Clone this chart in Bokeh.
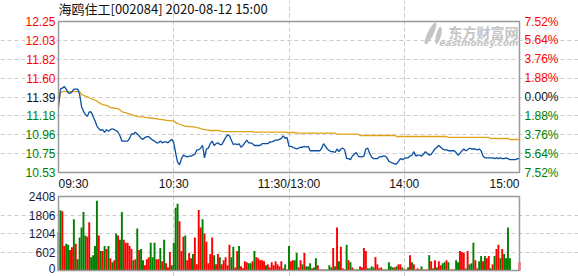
from bokeh.plotting import figure
from bokeh.models import Range1d, Grid, FixedTicker, Label
from bokeh.core.properties import value
from bokeh.embed import file_html
from bokeh.resources import INLINE

title_text = "海鸥住工[002084] 2020-08-12 15:00"
prev_close = 11.39
price_labels = ["12.25", "12.03", "11.82", "11.60", "11.39", "11.18", "10.96", "10.75", "10.53"]
pct_levels = [7.52, 5.64, 3.76, 1.88, 0.0, -1.88, -3.76, -5.64, -7.52]
pct_labels = ["7.52%", "5.64%", "3.76%", "1.88%", "0.00%", "1.88%", "3.76%", "5.64%", "7.52%"]
time_ticks = [0, 60, 120, 180, 240]
time_labels = ["09:30", "10:30", "11:30/13:00", "14:00", "15:00"]
vol_ticks = [0, 602, 1204, 1806, 2408]
vol_labels = ["0", "602", "1204", "1806", "2408"]

price = [
    11.28, 11.48, 11.49, 11.51, 11.48, 11.44, 11.43, 11.45, 11.48, 11.48,
    11.48, 11.42, 11.28, 11.23, 11.19, 11.17, 11.22, 11.22, 11.17, 11.12,
    11.06, 11.03, 11.01, 11.02, 10.99, 11.02, 11.00, 11.02, 11.03, 11.02,
    11.01, 10.99, 10.95, 10.89, 10.89, 10.89, 10.89, 10.92, 10.97, 10.97,
    10.99, 10.97, 10.95, 10.92, 10.91, 10.93, 10.94, 10.94, 10.92, 10.90,
    10.89, 10.87, 10.87, 10.89, 10.87, 10.88, 10.88, 10.87, 10.89, 10.91,
    10.87, 10.75, 10.65, 10.62, 10.69, 10.73, 10.72, 10.71, 10.72, 10.72,
    10.73, 10.74, 10.79, 10.79, 10.81, 10.84, 10.70, 10.80, 10.81, 10.86,
    10.89, 10.84, 10.86, 10.87, 10.85, 10.85, 10.89, 10.93, 10.96, 10.95,
    10.90, 10.85, 10.86, 10.85, 10.86, 10.82, 10.84, 10.87, 10.90, 10.87,
    10.87, 10.86, 10.84, 10.84, 10.84, 10.84, 10.86, 10.86, 10.86, 10.86,
    10.88, 10.88, 10.89, 10.90, 10.90, 10.91, 10.92, 10.95, 10.92, 10.93,
    10.83, 10.83, 10.82, 10.81, 10.80, 10.81, 10.82, 10.82, 10.83, 10.82,
    10.83, 10.78, 10.78, 10.78, 10.78, 10.78, 10.78, 10.81, 10.86, 10.83,
    10.80, 10.78, 10.77, 10.77, 10.76, 10.80, 10.77, 10.80, 10.81, 10.79,
    10.69, 10.69, 10.68, 10.72, 10.74, 10.76, 10.72, 10.71, 10.71, 10.72,
    10.80, 10.81, 10.75, 10.71, 10.69, 10.69, 10.69, 10.71, 10.71, 10.72,
    10.72, 10.70, 10.66, 10.65, 10.64, 10.63, 10.63, 10.66, 10.69, 10.68,
    10.69, 10.70, 10.70, 10.72, 10.73, 10.77, 10.72, 10.73, 10.73, 10.72,
    10.74, 10.77, 10.75, 10.73, 10.74, 10.77, 10.80, 10.82, 10.84, 10.82,
    10.80, 10.79, 10.79, 10.78, 10.78, 10.78, 10.78, 10.76, 10.73, 10.75,
    10.78, 10.80, 10.78, 10.79, 10.81, 10.80, 10.80, 10.80, 10.79, 10.80,
    10.78, 10.72, 10.70, 10.70, 10.70, 10.70, 10.70, 10.69, 10.70, 10.69,
    10.70, 10.69, 10.69, 10.70, 10.69, 10.68, 10.68, 10.68, 10.68, 10.69,
    10.69,
]

avg_price = [
    11.300, 11.440, 11.450, 11.450, 11.450, 11.450, 11.450, 11.450, 11.450, 11.450,
    11.450, 11.450, 11.420, 11.410, 11.400, 11.393, 11.382, 11.370, 11.363, 11.355,
    11.344, 11.325, 11.314, 11.303, 11.299, 11.295, 11.284, 11.273, 11.265, 11.265,
    11.261, 11.258, 11.243, 11.224, 11.216, 11.213, 11.205, 11.198, 11.190, 11.182,
    11.175, 11.171, 11.167, 11.164, 11.164, 11.160, 11.156, 11.152, 11.152, 11.149,
    11.145, 11.145, 11.137, 11.137, 11.134, 11.130, 11.126, 11.122, 11.122, 11.119,
    11.119, 11.100, 11.092, 11.081, 11.073, 11.066, 11.058, 11.058, 11.055, 11.055,
    11.051, 11.047, 11.043, 11.040, 11.032, 11.025, 11.021, 11.017, 11.013, 11.010,
    11.010, 11.010, 11.010, 11.010, 11.010, 10.998, 10.998, 10.998, 10.998, 10.998,
    10.998, 10.998, 10.998, 10.998, 10.998, 10.998, 10.998, 10.998, 10.998, 10.998,
    10.998, 10.998, 10.991, 10.991, 10.991, 10.991, 10.991, 10.991, 10.991, 10.991,
    10.991, 10.991, 10.991, 10.991, 10.991, 10.991, 10.991, 10.991, 10.991, 10.987,
    10.987, 10.987, 10.987, 10.987, 10.984, 10.980, 10.980, 10.980, 10.980, 10.980,
    10.980, 10.980, 10.980, 10.980, 10.980, 10.980, 10.980, 10.980, 10.980, 10.980,
    10.980, 10.980, 10.980, 10.980, 10.980, 10.968, 10.968, 10.968, 10.968, 10.968,
    10.968, 10.968, 10.968, 10.968, 10.968, 10.968, 10.968, 10.953, 10.953, 10.953,
    10.953, 10.953, 10.953, 10.953, 10.953, 10.953, 10.953, 10.953, 10.953, 10.953,
    10.953, 10.953, 10.953, 10.953, 10.953, 10.953, 10.942, 10.942, 10.942, 10.942,
    10.942, 10.942, 10.942, 10.942, 10.942, 10.942, 10.942, 10.942, 10.942, 10.942,
    10.942, 10.942, 10.942, 10.942, 10.942, 10.942, 10.942, 10.942, 10.942, 10.942,
    10.942, 10.942, 10.942, 10.931, 10.931, 10.931, 10.931, 10.931, 10.931, 10.931,
    10.931, 10.931, 10.931, 10.931, 10.931, 10.931, 10.931, 10.931, 10.931, 10.931,
    10.931, 10.931, 10.931, 10.931, 10.931, 10.919, 10.919, 10.919, 10.919, 10.919,
    10.919, 10.919, 10.919, 10.919, 10.919, 10.908, 10.908, 10.908, 10.908, 10.908,
    10.908,
]

volume = [
    1240, 1960, 1930, 800, 870, 840, 670, 760, 1670, 870,
    370, 1070, 1400, 1900, 1140, 1100, 1570, 435, 500, 800,
    2270, 1140, 635, 635, 800, 700, 800, 400, 270, 335,
    1200, 1140, 1000, 1900, 1000, 900, 900, 800, 700, 335,
    370, 1370, 670, 700, 335, 170, 370, 435, 900, 435,
    900, 370, 370, 735, 300, 1000, 235, 100, 600, 170,
    900, 2040, 2170, 1600, 635, 1100, 1140, 335, 570, 400,
    535, 1070, 200, 1970, 1400, 1670, 1200, 935, 235, 535,
    1070, 500, 200, 535, 435, 200, 335, 435, 170, 835,
    435, 770, 100, 635, 800, 135, 70, 300, 270, 235,
    235, 300, 635, 435, 400, 335, 335, 300, 170, 200,
    100, 270, 170, 300, 200, 135, 300, 70, 200, 35,
    800, 300, 335, 335, 570, 100, 335, 200, 570, 135,
    135, 235, 70, 100, 400, 170, 35, 35, 35, 35,
    35, 170, 100, 735, 135, 1400, 300, 770, 70, 35,
    835, 335, 270, 100, 35, 35, 35, 135, 100, 735,
    635, 70, 70, 135, 100, 435, 200, 70, 100, 35,
    35, 35, 270, 135, 100, 100, 135, 200, 200, 100,
    35, 35, 100, 500, 270, 200, 35, 70, 35, 135,
    35, 35, 35, 500, 300, 70, 335, 100, 300, 170,
    235, 270, 335, 270, 35, 35, 35, 335, 270, 635,
    600, 570, 70, 635, 200, 235, 900, 335, 70, 300,
    470, 300, 470, 400, 470, 70, 200, 470, 700, 835,
    400, 700, 535, 400, 1400, 400, 0, 0, 0, 0,
    270,
]

# 1 = up (red), -1 = down (green)
vol_dir = [
    1, -1, 1, 1, -1, -1, 1, 1, -1, 1,
    -1, -1, -1, -1, -1, 1, 1, -1, -1, -1,
    -1, 1, -1, 1, -1, 1, -1, 1, -1, 1,
    -1, 1, -1, -1, 1, 1, 1, 1, 1, -1,
    1, -1, 1, -1, -1, 1, 1, 1, -1, -1,
    -1, 1, 1, -1, 1, -1, 1, 1, 1, -1,
    -1, -1, -1, 1, 1, 1, -1, 1, 1, 1,
    -1, 1, 1, 1, 1, -1, 1, 1, 1, 1,
    1, -1, 1, 1, -1, 1, 1, 1, 1, 1,
    -1, -1, 1, 1, -1, 1, 1, 1, 1, -1,
    -1, 1, -1, 1, 1, 1, 1, 1, -1, 1,
    1, 1, 1, 1, 1, 1, 1, 1, -1, 1,
    -1, 1, 1, -1, -1, 1, 1, -1, 1, -1,
    -1, -1, 1, -1, -1, 1, 1, 1, 1, -1,
    -1, -1, -1, 1, -1, 1, -1, 1, 1, 1,
    -1, 1, -1, 1, -1, -1, -1, 1, 1, 1,
    1, -1, -1, -1, -1, 1, 1, 1, 1, -1,
    -1, -1, -1, -1, -1, 1, -1, 1, 1, -1,
    1, 1, -1, 1, -1, 1, 1, 1, 1, -1,
    1, 1, 1, -1, 1, -1, 1, -1, 1, 1,
    -1, -1, 1, -1, 1, 1, -1, -1, -1, 1,
    1, 1, -1, 1, -1, -1, -1, 1, 1, -1,
    -1, 1, -1, 1, 1, -1, 1, -1, 1, 1,
    -1, 1, -1, -1, -1, -1, 1, 1, 1, 1,
    1,
]

RED = "#ff0000"
GREEN = "#008000"
DARK = "#111111"
FONT = "Liberation Sans"
GRID = "#cccccc"
FRAME = "#999999"
WM = "#c4c4c4"
W, H = 578, 276

minutes = list(range(len(price)))
levels = [prev_close * (1 + p / 100.0) for p in pct_levels]
y_lo, y_hi = min(levels), max(levels)

# canvas layout (pixels)
L, R = 58, 519
PT, PB = 21, 172
VT, VB = 196, 270
ppm = (R - L) / 240.0
ppu = (PB - PT) / (y_hi - y_lo)
ppv = (VB - VT) / float(vol_ticks[-1])

x_range = Range1d(-L / ppm, 240 + (W - R) / ppm)
y_range = Range1d(y_lo - (H - PB) / ppu, y_hi + PT / ppu)

p = figure(width=W, height=H, output_backend="svg", toolbar_location=None,
           x_axis_location=None, y_axis_location=None, title=None,
           x_range=x_range, y_range=y_range,
           min_border=0, outline_line_color=None,
           background_fill_color="white", border_fill_color="white")
p.extra_y_ranges = {"vol": Range1d(-(H - VB) / ppv, vol_ticks[-1] + VT / ppv)}
for g in p.center[:]:
    g.visible = False

dash = "4 3"
p.add_layout(Grid(dimension=0, ticker=FixedTicker(ticks=time_ticks[1:-1]), bounds=(y_lo, y_hi),
                  grid_line_color=GRID, grid_line_dash=dash, grid_line_width=1))
p.add_layout(Grid(dimension=1, ticker=FixedTicker(ticks=levels[1:-1]), bounds=(0, 240),
                  grid_line_color=GRID, grid_line_dash=dash, grid_line_width=1))
p.add_layout(Grid(dimension=0, ticker=FixedTicker(ticks=time_ticks[1:-1]), y_range_name="vol",
                  bounds=(0, vol_ticks[-1]),
                  grid_line_color=GRID, grid_line_dash=dash, grid_line_width=1))
p.add_layout(Grid(dimension=1, ticker=FixedTicker(ticks=vol_ticks[1:-1]), y_range_name="vol",
                  bounds=(0, 240),
                  grid_line_color=GRID, grid_line_dash=dash, grid_line_width=1))

# watermark (logo approximated by two grey leaves + text)
p.ellipse(x=[240 - 89 / ppm, 240 - 81 / ppm], y=[y_hi - 12 / ppu, y_hi - 14 / ppu],
          width=[6, 5], height=[24, 18], width_units="screen", height_units="screen",
          angle=[-0.45, -0.25], fill_color=WM, line_color=None)
p.text(x=[240 - 1 / ppm], y=[y_hi - 10.0 / ppu], text=["东方财富网"], text_align="right",
       text_baseline="middle", text_color=WM, text_font=value("Noto Sans CJK SC"),
       text_font_size="14px", text_font_style="bold")
p.text(x=[240 - 1 / ppm], y=[y_hi - 21.5 / ppu], text=["eastmoney.com"], text_align="right",
       text_baseline="middle", text_color=WM, text_font=value("DejaVu Sans"),
       text_font_size="9px", text_font_style="bold italic")

# lines
p.line(minutes, avg_price, line_color="#dfa21c", line_width=1.3)
p.line(minutes, price, line_color="#0b4fa2", line_width=1.3)

# volume bars
bar_colors = [RED if d > 0 else GREEN for d in vol_dir]
p.vbar(x=minutes, top=volume, bottom=0, width=1.0, width_units="screen",
       fill_color=bar_colors, line_color=None, y_range_name="vol")

# panel frames
p.quad(left=[0], right=[240], bottom=[y_lo], top=[y_hi], fill_color=None,
       line_color=FRAME, line_width=1.5)
p.quad(left=[0], right=[240], bottom=[0], top=[vol_ticks[-1]], fill_color=None,
       line_color=FRAME, line_width=1.5, y_range_name="vol")

# price tick labels
for lab, pct, lev in zip(price_labels, pct_levels, levels):
    col = RED if pct > 0 else (GREEN if pct < 0 else DARK)
    p.add_layout(Label(x=-3.0 / ppm, y=lev, text=lab, text_align="right",
                       text_baseline="middle", text_color=col, text_font=FONT,
                       text_font_size="12px"))
for lab, pct, lev in zip(pct_labels, pct_levels, levels):
    col = RED if pct > 0 else (GREEN if pct < 0 else DARK)
    p.add_layout(Label(x=240 + 5.0 / ppm, y=lev, text=lab, text_align="left",
                       text_baseline="middle", text_color=col, text_font=FONT,
                       text_font_size="12px"))

ty = y_lo - 11.0 / ppu
for i, (t, lab) in enumerate(zip(time_ticks, time_labels)):
    align = "left" if i == 0 else ("right" if i == len(time_ticks) - 1 else "center")
    p.add_layout(Label(x=t, y=ty, text=lab, text_align=align, text_baseline="middle",
                       text_color=DARK, text_font=FONT, text_font_size="12px"))

# title
p.text(x=[0], y=[y_hi + 13.0 / ppu], text=[title_text], text_align="left",
       text_baseline="middle", text_color=DARK, text_font=value("Noto Sans CJK SC"),
       text_font_size="13px")

# volume tick labels (keep the lowest fully inside the canvas)
for lab, v in zip(vol_labels, vol_ticks):
    yv = max(v, 2.0 / ppv)
    p.add_layout(Label(x=-3.0 / ppm, y=yv, text=lab, text_align="right", y_range_name="vol",
                       text_baseline="middle", text_color="#1a1a40", text_font=FONT,
                       text_font_size="12px"))

open("out.html", "w").write(file_html(p, INLINE))
